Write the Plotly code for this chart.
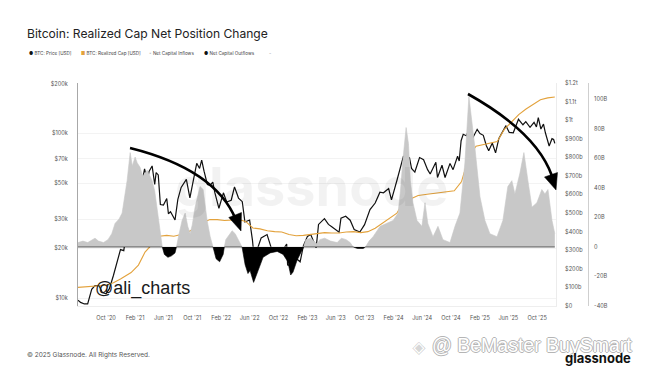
import numpy as np
import plotly.graph_objects as go

# ---------------- data ----------------
price_dates = [
    "2020-06-04","2020-06-15","2020-07-01","2020-07-15","2020-08-01","2020-08-15","2020-09-01","2020-09-15",
    "2020-10-01","2020-10-15","2020-11-01","2020-11-15","2020-12-01","2020-12-15","2021-01-01","2021-01-08",
    "2021-01-15","2021-01-27","2021-02-01","2021-02-15","2021-02-21","2021-03-01","2021-03-13","2021-03-25",
    "2021-04-01","2021-04-14","2021-04-25","2021-05-01","2021-05-10","2021-05-19","2021-06-01","2021-06-15",
    "2021-06-22","2021-07-01","2021-07-20","2021-08-01","2021-08-15","2021-09-06","2021-09-21","2021-10-01",
    "2021-10-15","2021-10-20","2021-11-01","2021-11-10","2021-11-20","2021-12-04","2021-12-15","2021-12-27",
    "2022-01-05","2022-01-22","2022-02-10","2022-02-24","2022-03-15","2022-03-29","2022-04-15","2022-05-01",
    "2022-05-12","2022-06-01","2022-06-13","2022-06-18","2022-07-01","2022-07-20","2022-08-14","2022-09-01",
    "2022-09-15","2022-10-01","2022-10-15","2022-11-05","2022-11-09","2022-11-21","2022-12-15","2023-01-01",
    "2023-01-15","2023-02-01","2023-02-15","2023-03-10","2023-03-20","2023-04-14","2023-05-01","2023-05-15",
    "2023-06-15","2023-06-23","2023-07-13","2023-08-01","2023-08-18","2023-09-11","2023-10-01","2023-10-24",
    "2023-11-15","2023-12-05","2023-12-20","2024-01-11","2024-01-23","2024-02-15","2024-03-01","2024-03-14",
    "2024-03-20","2024-04-08","2024-04-17","2024-05-01","2024-05-21","2024-06-07","2024-06-24","2024-07-05",
    "2024-07-29","2024-08-05","2024-08-24","2024-09-06","2024-09-27","2024-10-10","2024-10-29","2024-11-05",
    "2024-11-13","2024-11-22","2024-12-05","2024-12-17","2024-12-30","2025-01-20","2025-02-01","2025-02-15",
    "2025-02-28","2025-03-10","2025-03-25","2025-04-08","2025-04-22","2025-05-10","2025-05-22","2025-06-05",
    "2025-06-22","2025-07-14","2025-08-02","2025-08-14","2025-09-01","2025-09-18","2025-09-28","2025-10-06",
    "2025-10-17","2025-10-28","2025-11-05","2025-11-21","2025-12-03","2025-12-10","2025-12-15",
]
price_usd = [
    9700,9400,9200,9200,11300,11900,11900,10800,
    10600,11400,13700,16000,19700,19400,29300,40600,
    36800,30400,33500,48700,57500,49600,61000,51300,
    58800,63500,49000,57800,56000,37000,36700,40200,
    32500,33500,29800,39800,47000,52600,40600,48100,
    61500,65900,61300,68800,59000,49000,48400,50600,
    43500,35100,43600,38300,39300,47400,40500,38500,
    29000,29800,22500,19000,19300,23200,24300,20100,
    19700,19300,19100,21300,15900,15800,17400,16600,
    20800,23700,24300,20200,28000,30400,28000,27100,
    25100,30600,31400,29700,26100,25200,27900,34500,
    37800,44000,43600,46300,39500,51800,62400,73100,
    67800,71600,61300,58300,71400,69300,60300,56700,
    66800,54000,64100,54000,65800,60300,72700,68000,
    90400,98900,97000,106100,92600,106000,100000,97500,
    84300,78600,87500,76300,93400,104000,111600,101500,
    101000,122000,113000,118000,109000,117000,109700,124700,
    106500,114000,101000,84000,93000,92000,87000,
]

rcap_dates = [
    "2020-06-04","2020-09-01","2020-10-01","2020-11-01","2020-12-01","2021-01-15","2021-02-15","2021-03-15",
    "2021-04-15","2021-05-15","2021-06-15","2021-07-15","2021-08-15","2021-09-15","2021-10-15","2021-11-15",
    "2021-12-15","2022-01-15","2022-02-15","2022-03-15","2022-04-15","2022-05-15","2022-06-15","2022-07-15",
    "2022-08-15","2022-09-15","2022-10-15","2022-11-15","2022-12-15","2023-01-15","2023-02-15","2023-03-15",
    "2023-04-15","2023-05-15","2023-06-15","2023-07-15","2023-08-15","2023-09-15","2023-10-15","2023-11-15",
    "2023-12-15","2024-01-15","2024-02-15","2024-03-15","2024-04-15","2024-05-15","2024-06-15","2024-07-15",
    "2024-08-15","2024-09-15","2024-10-15","2024-11-15","2024-12-15","2025-01-15","2025-02-15","2025-03-15",
    "2025-04-15","2025-05-15","2025-06-15","2025-07-15","2025-08-15","2025-09-15","2025-10-15","2025-11-15",
    "2025-12-15",
]
rcap_busd = [
    100,108,112,125,145,180,220,290,
    335,375,380,375,385,400,420,450,
    465,465,460,462,465,455,420,415,
    405,400,398,385,378,380,385,390,
    395,393,393,398,400,395,400,418,
    445,470,500,560,580,595,600,605,
    610,615,620,670,800,860,870,875,
    885,950,990,1030,1060,1085,1110,1120,
    1125,
]

flow_dates = [
    "2020-06-04","2020-06-25","2020-07-15","2020-08-05","2020-08-15","2020-08-30","2020-09-20","2020-10-09",
    "2020-10-25","2020-11-08","2020-11-25","2020-12-08","2020-12-20","2020-12-29","2021-01-11","2021-01-20",
    "2021-02-01","2021-02-10","2021-02-22","2021-03-05","2021-03-24","2021-04-14","2021-04-25","2021-05-05",
    "2021-05-18","2021-05-27","2021-06-05","2021-06-20","2021-07-05","2021-07-20","2021-07-26","2021-08-05",
    "2021-08-19","2021-09-01","2021-09-12","2021-09-22","2021-10-01","2021-10-13","2021-10-25","2021-11-03",
    "2021-11-16","2021-12-03","2021-12-16","2021-12-28","2022-01-10","2022-01-25","2022-02-09","2022-02-14",
    "2022-02-20","2022-03-05","2022-03-19","2022-04-01","2022-04-13","2022-04-30","2022-05-13","2022-05-25",
    "2022-06-03","2022-06-18","2022-07-07","2022-07-28","2022-08-27","2022-09-26","2022-10-21","2022-11-10",
    "2022-11-22","2022-12-02","2022-12-19","2023-01-09","2023-01-16","2023-01-25","2023-02-15","2023-03-14",
    "2023-03-25","2023-04-15","2023-05-10","2023-06-07","2023-06-25","2023-07-15","2023-08-01","2023-08-14",
    "2023-09-01","2023-09-25","2023-10-05","2023-10-20","2023-11-06","2023-12-06","2024-01-05","2024-01-30",
    "2024-02-20","2024-03-01","2024-03-12","2024-03-25","2024-04-04","2024-04-12","2024-04-23","2024-05-10",
    "2024-05-31","2024-06-13","2024-06-25","2024-07-17","2024-08-07","2024-08-28","2024-09-27","2024-10-18",
    "2024-11-08","2024-11-29","2024-12-16","2024-12-29","2025-01-10","2025-02-01","2025-02-22","2025-03-15",
    "2025-04-14","2025-05-09","2025-05-30","2025-06-16","2025-06-29","2025-07-20","2025-08-06","2025-08-23",
    "2025-09-09","2025-09-30","2025-10-21","2025-11-03","2025-11-16","2025-12-03","2025-12-15",
]
flow_busd = [
    3,4,3,5,6,4,3,5,
    9,16,19,23,35,45,64,55,
    61,57,54,48,52,45,38,27,
    13,0,-5,-7,-6,-4,0,8,
    18,23,14,9,15,27,36,41,
    39,18,7,0,-8,-10,-5,0,
    5,8,11,9,5,0,-12,-18,
    -16,-24,-16,-7,-4,-3,-5,-10,
    -19,-17,-9,-2,0,5,6,2,
    5,6,4,3,6,5,3,0,
    -1,-1,0,4,7,14,16,18,
    23,38,60,81,70,45,30,18,
    14,30,16,7,14,5,3,14,
    23,57,102,86,68,34,18,9,
    7,18,41,45,36,50,64,45,
    27,30,39,36,39,18,9,
]

left_tickvals = [10000, 20000, 30000, 50000, 70000, 100000, 200000]
left_ticktext = ["$10k", "$20k", "$30k", "$50k", "$70k", "$100k", "$200k"]
rcap_tickvals = [i * 1e11 for i in range(13)]
rcap_ticktext = ["$0", "$100b", "$200b", "$300b", "$400b", "$500b", "$600b", "$700b",
                 "$800b", "$900b", "$1t", "$1.1t", "$1.2t"]
flow_tickvals = [-40e9, -20e9, 0, 20e9, 40e9, 60e9, 80e9, 100e9]
flow_ticktext = ["-40B", "-20B", "0", "20B", "40B", "60B", "80B", "100B"]
x_tickvals = ["2020-10-01","2021-02-01","2021-06-01","2021-10-01","2022-02-01","2022-06-01",
              "2022-10-01","2023-02-01","2023-06-01","2023-10-01","2024-02-01","2024-06-01",
              "2024-10-01","2025-02-01","2025-06-01","2025-10-01"]
x_ticktext = ["Oct '20","Feb '21","Jun '21","Oct '21","Feb '22","Jun '22","Oct '22","Feb '23",
              "Jun '23","Oct '23","Feb '24","Jun '24","Oct '24","Feb '25","Jun '25","Oct '25"]

# ---------------- derived ----------------
flows = np.array(flow_busd, dtype=float) * 1e9
inflows = np.where(flows > 0, flows, 0.0)
outflows = np.where(flows < 0, flows, 0.0)
rcap = np.array(rcap_busd, dtype=float) * 1e9

FONT = "Inter, Noto Sans, sans-serif"
GRAY_AREA = "#c8c8c8"
ORANGE = "#e3a23c"

# page geometry (pixels)
L, R_PAPER, T, B = 78, 590, 83, 306
PLOT_R = 556
PW = R_PAPER - L
PH = B - T


def px(x):
    return (x - L) / PW


def py(y):
    return (B - y) / PH


def P(x, y):
    return f"{px(x):.4f},{py(y):.4f}"


fig = go.Figure()
fig.add_trace(go.Scatter(x=flow_dates, y=inflows, yaxis="y3", mode="lines",
                         line=dict(width=0.6, color=GRAY_AREA), fill="tozeroy",
                         fillcolor=GRAY_AREA, name="Net Capital Inflows", hoverinfo="skip"))
fig.add_trace(go.Scatter(x=flow_dates, y=outflows, yaxis="y3", mode="lines",
                         line=dict(width=0.6, color="#000000"), fill="tozeroy",
                         fillcolor="#000000", name="Net Capital Outflows", hoverinfo="skip"))
fig.add_trace(go.Scatter(x=rcap_dates, y=rcap, yaxis="y2", mode="lines",
                         line=dict(width=1.1, color=ORANGE), name="BTC: Realized Cap [USD]"))
fig.add_trace(go.Scatter(x=price_dates, y=price_usd, yaxis="y", mode="lines",
                         line=dict(width=1.2, color="#111111"), name="BTC: Price [USD]"))

tick_font = dict(family=FONT, size=5.6, color="#555555")

fig.update_layout(
    width=656, height=372,
    margin=dict(l=L, r=656 - R_PAPER, t=T, b=372 - B, pad=0),
    paper_bgcolor="white", plot_bgcolor="white",
    showlegend=False,
    xaxis=dict(domain=[0, (PLOT_R - L) / PW], type="date",
               range=["2020-06-04", "2025-12-20"],
               tickvals=x_tickvals, ticktext=x_ticktext, tickfont=tick_font,
               showgrid=False, showline=True, linecolor="#eeeeee", linewidth=1,
               ticks="", ticklabelstandoff=6, zeroline=False),
    yaxis=dict(type="log", range=[np.log10(8940), 5.307],
               tickvals=left_tickvals, ticktext=left_ticktext, tickfont=tick_font,
               showgrid=True, gridcolor="#f3f3f3", gridwidth=1,
               showline=True, linecolor="#a8a8a8", linewidth=1,
               ticks="", ticklabelstandoff=8, zeroline=False),
    yaxis2=dict(overlaying="y", side="right", anchor="x",
                range=[0, 1.2e12], tickvals=rcap_tickvals, ticktext=rcap_ticktext,
                tickfont=tick_font, showgrid=False, showline=True,
                linecolor="#ececec", linewidth=1, ticks="", ticklabelstandoff=7,
                zeroline=False),
    yaxis3=dict(overlaying="y", side="right", anchor="free", position=(588 - L) / PW,
                range=[-40e9, 111.2e9], tickvals=flow_tickvals, ticktext=flow_ticktext,
                tickfont=tick_font, showgrid=False, showline=True,
                linecolor="#cfcfcf", linewidth=1, ticks="", ticklabelstandoff=4,
                zeroline=False),
)

ann = []
# faint @ali_charts watermarks (kept clear of other texts)
for xx, yy in [(165, 108), (390, 108)]:
    ann.append(dict(x=px(xx), y=py(yy), xref="paper", yref="paper", text="@ali_charts",
                    showarrow=False, font=dict(family="Liberation Sans", size=30,
                                               color="rgba(0,0,0,0.025)")))
# big glassnode watermark
ann.append(dict(x=px(312), y=py(186), xref="paper", yref="paper", text="<b>glassnode</b>",
                showarrow=False, font=dict(family=FONT, size=54, color="rgba(0,0,0,0.05)")))
# title
ann.append(dict(x=px(25), y=py(33), xref="paper", yref="paper", xanchor="left", yanchor="middle",
                text="Bitcoin: Realized Cap Net Position Change", showarrow=False,
                font=dict(family=FONT, size=12.1, color="#222222")))
# legend (drawn as text)
legend_items = [
    (27, "●", "#111111", "BTC: Price [USD]"),
    (79, "■", ORANGE, "BTC: Realized Cap [USD]"),
    (147, "▪", GRAY_AREA, "Net Capital Inflows"),
    (202, "●", "#111111", "Net Capital Outflows"),
]
for xx, sym, col, label in legend_items:
    ann.append(dict(x=px(xx), y=py(53), xref="paper", yref="paper", xanchor="left",
                    yanchor="middle", showarrow=False,
                    text=f"<span style='color:{col}'>{sym}</span> {label}",
                    font=dict(family=FONT, size=4.6, color="#444444")))
ann.append(dict(x=px(267), y=py(53), xref="paper", yref="paper", xanchor="left",
                yanchor="middle", showarrow=False, text="-",
                font=dict(family=FONT, size=5, color="#999999")))
# @ali_charts sticker text
ann.append(dict(x=px(93), y=py(288), xref="paper", yref="paper", xanchor="left",
                yanchor="middle", showarrow=False, text="@ali_charts",
                font=dict(family="Liberation Sans", size=18, color="#1a1a1a")))
# footer
ann.append(dict(x=px(25), y=py(355), xref="paper", yref="paper", xanchor="left",
                yanchor="middle", showarrow=False, text="© 2025 Glassnode. All Rights Reserved.",
                font=dict(family=FONT, size=6.5, color="#555555")))
ann.append(dict(x=px(419), y=py(346), xref="paper", yref="paper", xanchor="center",
                yanchor="middle", showarrow=False, text="◈",
                font=dict(family="DejaVu Sans", size=18, color="rgba(0,0,0,0.16)")))
ann.append(dict(x=px(430), y=py(345), xref="paper", yref="paper", xanchor="left",
                yanchor="middle", showarrow=False, text="@ BeMaster BuySmart",
                font=dict(family="Liberation Sans", size=19.5, color="white",
                          shadow="1px 0 0 #b5b5b5, -1px 0 0 #b5b5b5, 0 1px 0 #b5b5b5, 0 -1px 0 #b5b5b5")))
ann.append(dict(x=px(598), y=py(358), xref="paper", yref="paper", xanchor="center",
                yanchor="middle", showarrow=False, text="<b>glassnode</b>",
                font=dict(family=FONT, size=13, color="#111111")))

fig.update_layout(annotations=ann)

# curved arrows
shapes = [
    dict(type="path", xref="paper", yref="paper",
         path=f"M {P(130,148)} Q {P(215.8,169.5)} {P(236,220)}",
         line=dict(color="black", width=2.6)),
    dict(type="path", xref="paper", yref="paper",
         path=f"M {P(241,231)} L {P(241.5,212.5)} L {P(228.8,217.5)} Z",
         line=dict(color="black", width=0.5), fillcolor="black"),
    dict(type="path", xref="paper", yref="paper",
         path=f"M {P(468,94)} Q {P(536.8,132.5)} {P(552,176)}",
         line=dict(color="black", width=2.6)),
    dict(type="path", xref="paper", yref="paper",
         path=f"M {P(556,190)} L {P(557.5,172.5)} L {P(544.5,177)} Z",
         line=dict(color="black", width=0.5), fillcolor="black"),
]
fig.update_layout(shapes=shapes)

fig.write_html("out.html", config={"displayModeBar": False},
               post_script="document.body.style.margin='0';")
